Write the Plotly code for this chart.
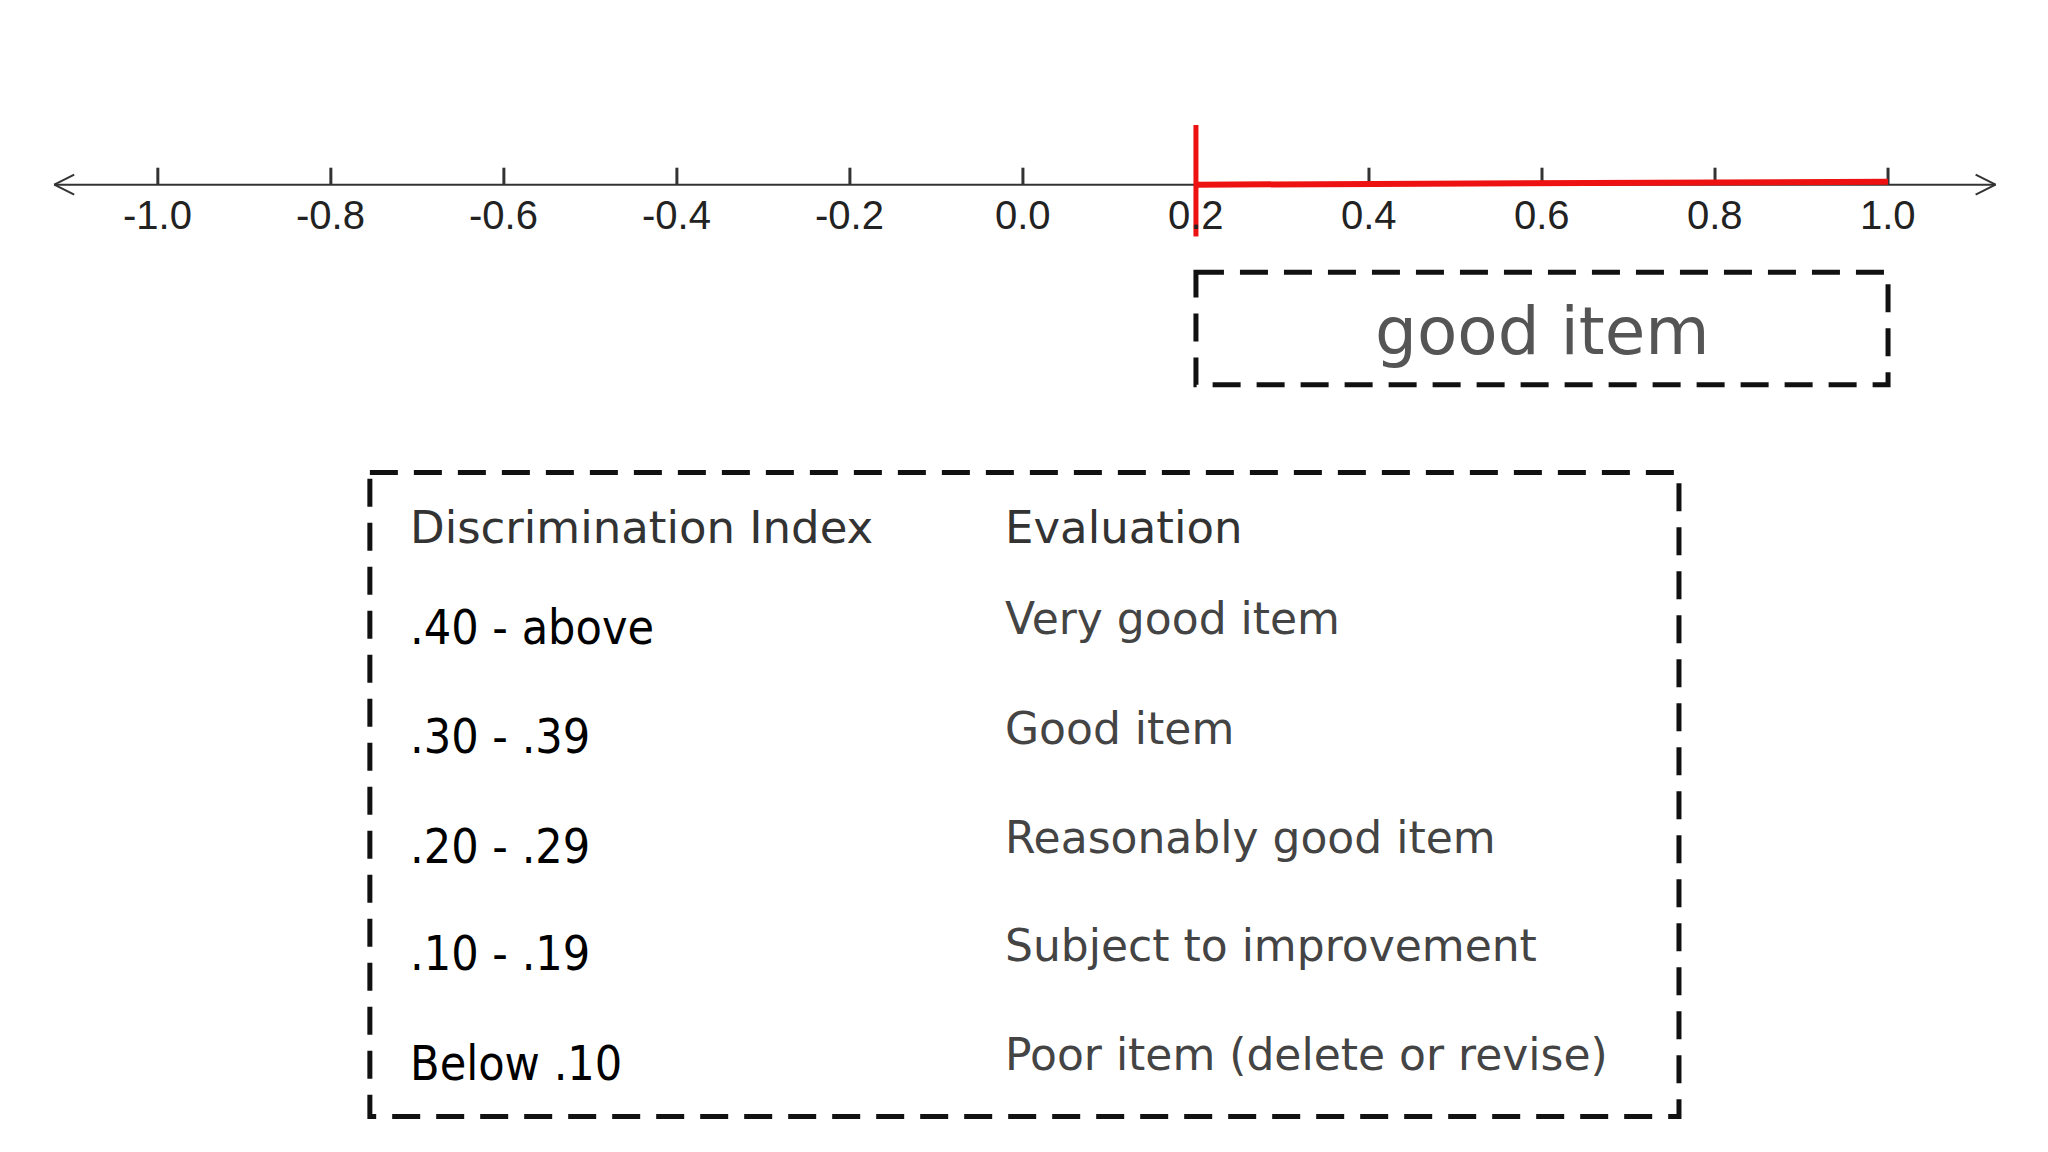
import plotly.graph_objects as go

tick_values = [-1.0, -0.8, -0.6, -0.4, -0.2, 0.0, 0.2, 0.4, 0.6, 0.8, 1.0]
tick_labels = ["-1.0", "-0.8", "-0.6", "-0.4", "-0.2", "0.0", "0.2", "0.4", "0.6", "0.8", "1.0"]
good_range = [0.2, 1.0]
good_label = "good item"
table_headers = ["Discrimination Index", "Evaluation"]
index_ranges = [".40 - above", ".30 - .39", ".20 - .29", ".10 - .19", "Below .10"]
evaluations = ["Very good item", "Good item", "Reasonably good item",
               "Subject to improvement", "Poor item (delete or revise)"]

W, H = 2048, 1152
def T(p):
    return (p - 8.5) / 1.0045

x0px, x1px = T(159), T(1897)
scale = (x1px - x0px) / 2.0
def p2v(p):
    return -1 + (T(p) - x0px) / scale

AXY = T(186)
DASH = "28px,16px"
fig = go.Figure()
shapes = []
ann = []
shapes.append(dict(type="line", x0=p2v(55), x1=p2v(2005), y0=AXY, y1=AXY, line=dict(color="#333", width=2)))
for end, d in [(55, 1), (2005, -1)]:
    shapes.append(dict(type="line", x0=p2v(end), x1=p2v(end + d * 20), y0=AXY, y1=AXY - 10, line=dict(color="#333", width=2)))
    shapes.append(dict(type="line", x0=p2v(end), x1=p2v(end + d * 20), y0=AXY, y1=AXY + 10, line=dict(color="#333", width=2)))
for v, lab in zip(tick_values, tick_labels):
    shapes.append(dict(type="line", x0=v, x1=v, y0=AXY - 17, y1=AXY, line=dict(color="#333", width=3)))
    ann.append(dict(x=v, y=T(216), text=lab, showarrow=False, font=dict(family="Liberation Sans", size=40, color="#222")))
shapes.append(dict(type="line", x0=good_range[0], x1=good_range[1], y0=AXY, y1=AXY - 3, line=dict(color="#ee1111", width=6)))
shapes.append(dict(type="line", x0=good_range[0], x1=good_range[0], y0=T(126), y1=T(238), line=dict(color="#ee1111", width=5)))
shapes.append(dict(type="rect", x0=good_range[0], x1=good_range[1], y0=T(274), y1=T(387), line=dict(color="#111", width=5, dash=DASH)))
ann.append(dict(x=(good_range[0] + good_range[1]) / 2, y=T(333), text=good_label, showarrow=False,
                font=dict(family="DejaVu Sans", size=66, color="#555")))
shapes.append(dict(type="rect", x0=p2v(372), x1=p2v(1687), y0=T(475), y1=T(1122), line=dict(color="#111", width=5, dash=DASH)))
colx = [410, 1008]
for cx, h in zip(colx, table_headers):
    ann.append(dict(x=p2v(cx), y=T(530), text=h, showarrow=False, xanchor="left",
                    font=dict(family="DejaVu Sans", size=45, color="#333")))
rows_y = [630, 740, 850, 958, 1068]
for y, r, e in zip(rows_y, index_ranges, evaluations):
    ann.append(dict(x=p2v(colx[0]), y=T(y), text=r, showarrow=False, xanchor="left",
                    font=dict(family="DejaVu Sans Condensed", size=48, color="#000")))
    ann.append(dict(x=p2v(colx[1]), y=T(y - 8), text=e, showarrow=False, xanchor="left",
                    font=dict(family="DejaVu Sans", size=44, color="#444")))

fig.update_layout(width=W, height=H, margin=dict(l=0, r=0, t=0, b=0),
                  paper_bgcolor="white", plot_bgcolor="white",
                  xaxis=dict(range=[p2v(0) , -1 + (W - x0px) / scale], visible=False, fixedrange=True),
                  yaxis=dict(range=[H, 0], visible=False, fixedrange=True),
                  shapes=shapes, annotations=ann, showlegend=False)
fig.update_xaxes(range=[-1 - x0px / scale, -1 + (W - x0px) / scale])
fig.write_html("out.html", config={"displayModeBar": False})
